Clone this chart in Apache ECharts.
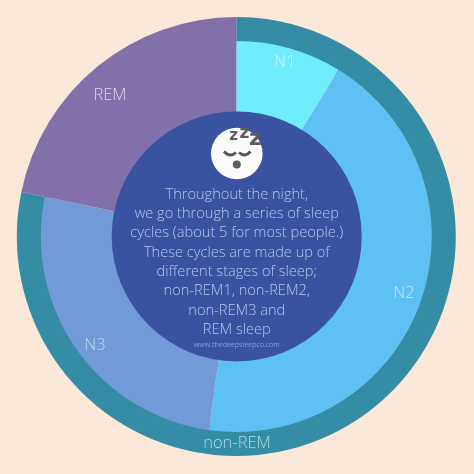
<!DOCTYPE html>
<html><head><meta charset="utf-8">
<style>html,body{margin:0;padding:0;background:#fbe8d9}#c{width:474px;height:474px}</style>
<script src="https://cdn.jsdelivr.net/npm/echarts@6/dist/echarts.min.js"></script>
</head><body><div id="c"></div>
<script>
const stageNames = ['N1', 'N2', 'N3', 'REM'];
const stageValues = [8.75, 43.5, 26, 21.75];
const stageColors = ['#70edfd', '#5dc1f4', '#729ad8', '#8270ab'];
const outerNames = ['non-REM', 'REM'];
const outerValues = [78.25, 21.75];
const outerColors = ['#358ca5', '#8270ab'];
const centerLines = [
  'Throughout the night,',
  'we go through a series of sleep',
  'cycles (about 5 for most people.)',
  'These cycles are made up of',
  'different stages of sleep;',
  'non-REM1, non-REM2,',
  'non-REM3 and',
  'REM sleep'
];
const creditText = 'www.thedeepsleepco.com';

const font = '"Open Sans"';
const labelColors = {N1:'#c8f8ff', N2:'#c5eafc', N3:'#c5d6f0', REM:'#ddd6ea', 'non-REM':'#a8dcea'};
const stageLabelPos = {N1:[285,62], N2:[404,293], N3:[95,345], REM:[110,95]};
const outerLabelPos = {'non-REM':[237,443]};
const cx = 236.3, cy = 236.5;

function pie(names, values, colors, radius, pos, z) {
  return {
    type:'pie', center:[cx,cy], radius:radius, startAngle:90, clockwise:true, z:z,
    animation:false, silent:true, avoidLabelOverlap:false, minAngle:0,
    label:{show:true, position:'inside', formatter:'{b}', fontFamily:font, fontWeight:300, fontSize:16.5},
    labelLine:{show:false},
    labelLayout:function(p){ const q = pos[names[p.dataIndex]]; return q ? {x:q[0], y:q[1], align:'center', verticalAlign:'middle'} : {}; },
    data:names.map((n,i)=>({name:n, value:values[i], itemStyle:{color:colors[i]},
      label:{show: !!pos[n], color:labelColors[n]}}))
  };
}
const lines = centerLines.map((t,i)=>({
  type:'text', z:20, style:{text:t, x:cx+0.5, y:194.5+i*19.35, align:'center', verticalAlign:'middle',
    fill:'#b6c6ee', font:'300 14.6px '+font}
}));
const G = '#5d5d5d';
const eye = (x1,y1,cpx,cpy,x2,y2)=>({type:'bezierCurve', z:12,
  shape:{x1:x1,y1:y1,x2:x2,y2:y2,cpx1:cpx,cpy1:cpy},
  style:{fill:null, stroke:'#555', lineWidth:2.8}});
const chart = echarts.init(document.getElementById('c'), null, {renderer:'canvas'});
chart.setOption({
  backgroundColor:'#fbe8d9',
  series:[
    pie(outerNames, outerValues, outerColors, [190,219.5], outerLabelPos, 1),
    pie(stageNames, stageValues, stageColors, [120,195.5], stageLabelPos, 2)
  ],
  graphic:[
    {type:'circle', z:10, shape:{cx:cx+0.4, cy:236.4, r:125}, style:{fill:'#3a53a0'}},
    {type:'circle', z:11, shape:{cx:236.8, cy:153.5, r:25.8}, style:{fill:'#fbfbf9'}},
    eye(224,151.5,230,158,236,152.5),
    eye(239,152.5,245,158,250.5,151.5),
    {type:'circle', z:12, shape:{cx:236.8, cy:164.5, r:4}, style:{fill:G}},
    {type:'text', z:12, style:{text:'z', x:233.5, y:136.5, align:'center', verticalAlign:'middle', fill:G, font:'bold 15px "DejaVu Sans"'}},
    {type:'text', z:12, style:{text:'z', x:244.5, y:134, align:'center', verticalAlign:'middle', fill:G, font:'bold 17px "DejaVu Sans"'}},
    {type:'text', z:12, style:{text:'z', x:255.5, y:139, align:'center', verticalAlign:'middle', fill:G, font:'bold 22px "DejaVu Sans"'}},
    ...lines,
    {type:'text', z:20, style:{text:creditText, x:cx+0.5, y:344.5, align:'center', verticalAlign:'middle', fill:'#8a9dd0', font:'7px '+font}}
  ]
});
</script></body></html>
